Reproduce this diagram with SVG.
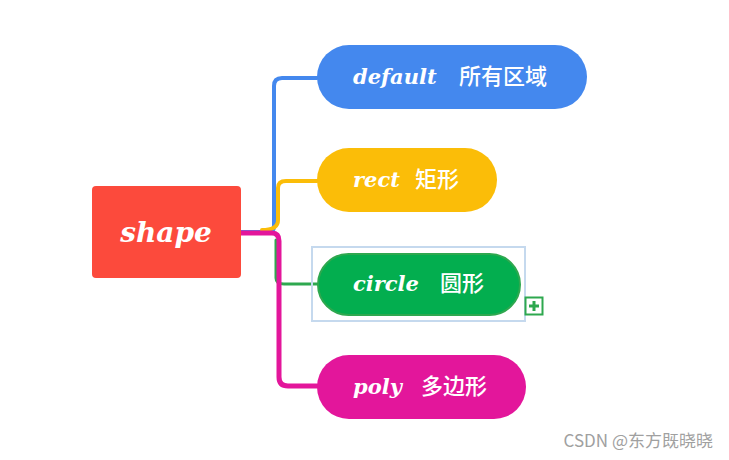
<svg xmlns="http://www.w3.org/2000/svg" width="729" height="460" viewBox="0 0 729 460">
<style>
.lat{font-family:"DejaVu Serif","Liberation Serif",serif;font-style:italic;font-weight:bold;fill:#fff}
.cjk{font-family:"Noto Sans CJK SC",sans-serif;fill:#fff;font-weight:500}
.c{fill:none;stroke-linecap:round;stroke-linejoin:round}
</style>
<rect width="729" height="460" fill="#fff"/>
<g id="connectors">
<path class="c" d="M241,232 H268 Q274,232 274,226 V86 Q274,78 282,78 H317" stroke="#4488ee" stroke-width="4"/>
<path class="c" d="M262,230 Q278,230 278,220 V188 Q278,181 286,181 H317" stroke="#fbbd08" stroke-width="4"/>
<path class="c" d="M276,240 V278 Q276,284 284,284 H317" stroke="#2ea84f" stroke-width="3"/>
<path class="c" d="M241,233 H272 Q279,233 279,241 V377 Q279,386 288,386 H317" stroke="#e3169b" stroke-width="5"/>
</g>
<g id="root"><rect x="92" y="186" width="149" height="92" rx="4" fill="#fc4a3c"/><text x="166" y="242" text-anchor="middle" class="lat" font-size="28">shape</text></g>
<g id="n-default"><rect x="317" y="45" width="270" height="64" rx="32" fill="#4488ee"/><text x="353" y="84" class="lat" font-size="21">default</text><text x="459" y="84" class="cjk" font-size="22">所有区域</text></g>
<g id="n-rect"><rect x="317" y="148" width="180" height="64" rx="32" fill="#fbbd08"/><text x="353" y="187" class="lat" font-size="21">rect</text><text x="415" y="187" class="cjk" font-size="22">矩形</text></g>
<g id="n-circle"><rect x="312" y="247" width="213" height="74" fill="none" stroke="#c5d9ee" stroke-width="2"/><rect x="318" y="254" width="202" height="61" rx="30.5" fill="#03ae4f" stroke="#2ea84f" stroke-width="2"/><text x="353" y="291" class="lat" font-size="21">circle</text><text x="440" y="291" class="cjk" font-size="22">圆形</text>
<rect x="525.5" y="297.5" width="17" height="17" fill="#fff" stroke="#2ea84f" stroke-width="2"/><path d="M529,306 H539 M534,301 V311" stroke="#2ea84f" stroke-width="3"/></g>
<g id="n-poly"><rect x="317" y="355" width="209" height="64" rx="32" fill="#e3169b"/><text x="353" y="394" class="lat" font-size="21">poly</text><text x="421" y="394" class="cjk" font-size="22">多边形</text></g>
<text x="713" y="447" text-anchor="end" font-family="Noto Sans CJK SC,sans-serif" font-size="17" fill="#a0a0a0">CSDN @东方既晓晓</text>
</svg>
